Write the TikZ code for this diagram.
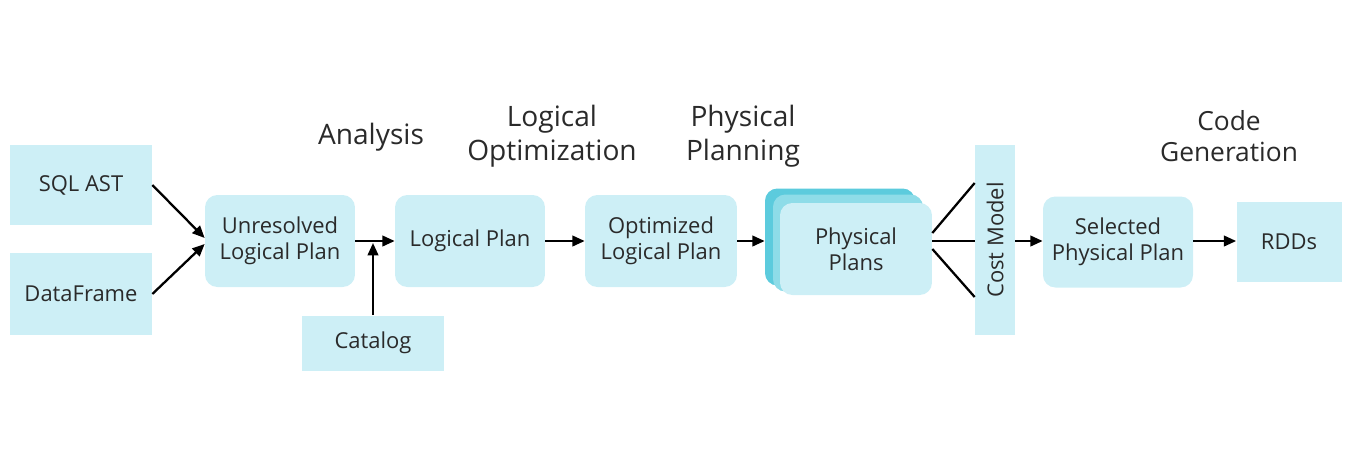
\documentclass[tikz,border=0pt]{standalone}
\usepackage{fontspec}
\setmainfont{Open Sans}
\usetikzlibrary{arrows.meta}
\definecolor{bx}{HTML}{CDEFF6}
\definecolor{l1}{HTML}{5CCBDD}
\definecolor{l2}{HTML}{8EDCE8}
\definecolor{tx}{HTML}{2A2A2A}
\begin{document}
\begin{tikzpicture}[x=0.02cm,y=-0.02cm,
  sq/.style={fill=bx,draw=none,text=tx,font=\fontsize{12.5}{15}\selectfont,align=center},
  rd/.style={sq,rounded corners=7pt},
  hd/.style={text=tx,font=\fontsize{16}{19}\selectfont,align=center},
  ar/.style={-{Triangle[length=7pt,width=6pt]},line width=1.3pt},
  ln/.style={line width=1.3pt}]
\useasboundingbox (0,0) rectangle (1358,464);
\node[sq,minimum width=142\pgflinewidth] (sql) at (81,185) [minimum width=2.84cm,minimum height=1.6cm] {SQL AST};
\node[sq,minimum width=2.84cm,minimum height=1.64cm] (df) at (81,294) {DataFrame};
\node[rd,minimum width=3cm,minimum height=1.84cm] (un) at (280,241) {Unresolved\\Logical Plan};
\node[sq,minimum width=2.84cm,minimum height=1.1cm] (cat) at (373,343) {Catalog};
\node[rd,minimum width=3cm,minimum height=1.84cm] (lp) at (470,241) {Logical Plan};
\node[rd,minimum width=3.04cm,minimum height=1.84cm] (op) at (661,241) {Optimized\\Logical Plan};
\node[rd,fill=l1,minimum width=3cm,minimum height=1.94cm] (p1) at (840,237) {};
\node[rd,fill=l2,minimum width=3cm,minimum height=1.94cm] (p2) at (848,243) {};
\node[rd,minimum width=3.04cm,minimum height=1.84cm] (pp) at (856,249) {Physical\\Plans};
\node[sq,minimum width=0.8cm,minimum height=3.8cm] (cm) at (995,240) {};
\node[text=tx,font=\fontsize{12.5}{15}\selectfont,rotate=90] (cml) at (cm.center) {Cost Model};
\node[rd,minimum width=3cm,minimum height=1.82cm] (sel) at (1118,242) {Selected\\Physical Plan};
\node[sq,minimum width=2.1cm,minimum height=1.6cm] (rdd) at (1289,242) {RDDs};
\node[hd] (h1) at (371,137) {Analysis};
\node[hd] (h2) at (552,136) {Logical\\Optimization};
\node[hd] (h3) at (743,136) {Physical\\Planning};
\node[hd,font=\fontsize{15}{17.5}\selectfont] (h4) at (1229,136) {Code\\Generation};
\coordinate (j) at (205,241);
\draw[ar] (sql.east) -- ([yshift=0.06cm]un.west);
\draw[ar] (df.east) -- ([yshift=-0.06cm]un.west);
\draw[ar] (un.east) -- (lp.west);
\draw[ar] (cat.north) -- (373,243);
\draw[ar] (lp.east) -- (op.west);
\draw[ar] (op.east) -- (p1.west|-op.east);
\draw[ln] ([yshift=0.16cm]pp.east|-op.east) -- (cm.west|-0,183);
\draw[ln] (pp.east|-op.east) -- (cm.west|-op.east);
\draw[ln] ([yshift=-0.16cm]pp.east|-op.east) -- (cm.west|-0,297);
\draw[ar] (cm.east|-op.east) -- (sel.west|-op.east);
\draw[ar] (sel.east|-op.east) -- (rdd.west|-op.east);
\end{tikzpicture}
\end{document}
